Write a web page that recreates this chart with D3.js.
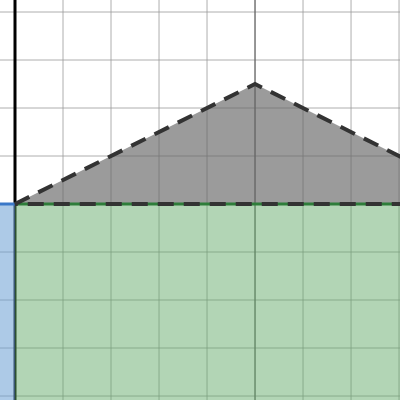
<!DOCTYPE html>
<html><head><meta charset="utf-8">
<script src="https://cdn.jsdelivr.net/npm/d3@7"></script>
<style>body{margin:0}svg{display:block}</style></head>
<body><script>
var xTicks = [-1, 0, 1, 2, 3, 4, 5, 6, 7, 8];
var yTicks = [-5, -4, -3, -2, -1, 0, 1, 2, 3, 4];
var triangle = [[0, 0], [5, 2.5], [10, 0]];
var greenRegion = [[0, 0], [10, 0], [10, -5], [0, -5]];
var blueRegion = [[-1, 0], [0, 0], [0, -5], [-1, -5]];

var W = 400, H = 400;
var x = d3.scaleLinear().domain([-0.3125, 8.02]).range([0, W]);
var y = d3.scaleLinear().domain([4.25, -4.083]).range([0, H]);
var svg = d3.select('body').append('svg').attr('width', W).attr('height', H);
svg.append('rect').attr('width', W).attr('height', H).attr('fill', '#fff');

svg.selectAll('.gx').data(xTicks).enter().append('line')
    .attr('x1', d => x(d)).attr('x2', d => x(d)).attr('y1', 0).attr('y2', H)
    .attr('stroke', '#999').attr('stroke-width', 0.8);
svg.selectAll('.gy').data(yTicks).enter().append('line')
    .attr('y1', d => y(d)).attr('y2', d => y(d)).attr('x1', 0).attr('x2', W)
    .attr('stroke', '#999').attr('stroke-width', 0.8);
svg.append('line').attr('x1', x(5)).attr('x2', x(5)).attr('y1', 0).attr('y2', H)
    .attr('stroke', '#555').attr('stroke-width', 1);
svg.append('line').attr('x1', x(0)).attr('x2', x(0)).attr('y1', 0).attr('y2', H)
    .attr('stroke', '#000').attr('stroke-width', 3);

var line = d3.line().x(d => x(d[0])).y(d => y(d[1]));
svg.append('path').attr('d', line(triangle) + 'Z').attr('fill', '#666').attr('fill-opacity', 0.65);
svg.append('path').attr('d', line(blueRegion) + 'Z').attr('fill', '#6a9fd4').attr('fill-opacity', 0.55);
svg.append('path').attr('d', line(greenRegion) + 'Z').attr('fill', '#5fa864').attr('fill-opacity', 0.48);

svg.append('path').attr('d', line([[-1, 0], [0, 0]])).attr('stroke', '#3a78c8')
    .attr('stroke-width', 3).attr('fill', 'none');
svg.append('path').attr('d', line([[0, 0], [10, 0]])).attr('stroke', '#2e7d3a')
    .attr('stroke-width', 3).attr('fill', 'none');
svg.append('path').attr('d', line(triangle) + 'Z').attr('fill', 'none')
    .attr('stroke', '#333').attr('stroke-width', 4).attr('stroke-dasharray', '16,10');
</script></body></html>
